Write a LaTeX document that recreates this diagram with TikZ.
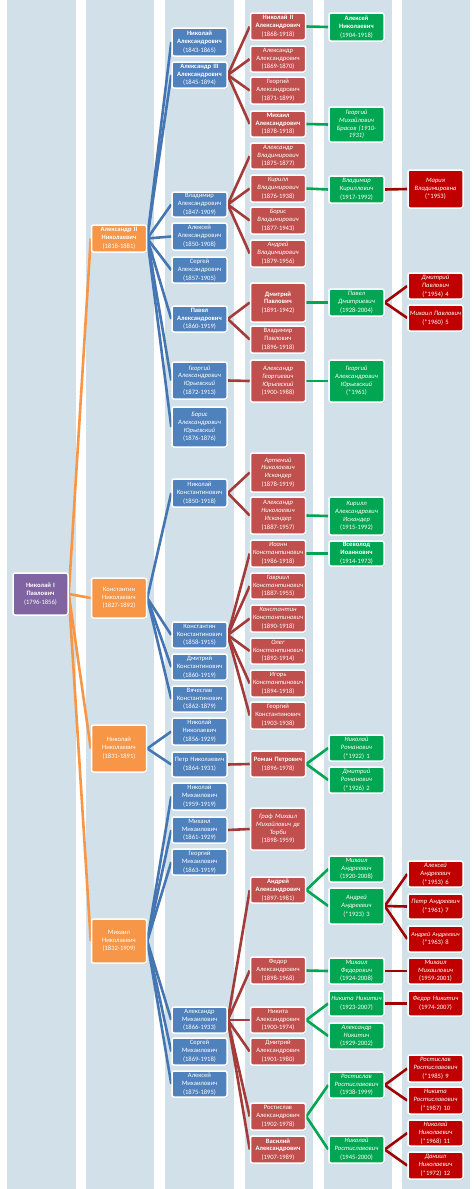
\documentclass[tikz,border=0pt]{standalone}
\usepackage{fontspec}
\setmainfont{Carlito}
\usetikzlibrary{shadows}
\definecolor{stripc}{RGB}{210,225,233}
\definecolor{cpur}{RGB}{128,100,162}
\definecolor{cora}{RGB}{247,150,70}
\definecolor{cblu}{RGB}{79,129,189}
\definecolor{cred}{RGB}{192,80,77}
\definecolor{cgrn}{RGB}{0,166,81}
\definecolor{ccri}{RGB}{192,0,0}
\definecolor{lblu}{RGB}{70,118,178}
\definecolor{lred}{RGB}{163,59,58}
\definecolor{lcri}{RGB}{160,0,0}
\pgfdeclarelayer{strips}
\pgfdeclarelayer{edges}
\pgfsetlayers{strips,edges,main}
\newcommand\fsz{\fontsize{6.6}{7.8}\selectfont}
\newcommand\Y[1]{\\[1pt]{\normalfont #1}}
\newcommand\gn[6]{\node[box,#2,minimum height={#5-#4}] (#1) at (#3,{(#4+#5)/2}) {#6};}
\newcommand\ed[3]{\draw[#1] (#2.east) -- (#3.west);}
\tikzset{
  box/.style={rectangle, rounded corners=2pt, draw=white, line width=1.5pt, text=white,
    align=center, text width=53pt, inner sep=1pt, font=\fsz,
    drop shadow={shadow xshift=0.6pt, shadow yshift=-0.8pt, opacity=0.25, fill=black}},
  fp/.style={fill=cpur}, fo/.style={fill=cora}, fb/.style={fill=cblu},
  fr/.style={fill=cred}, fg/.style={fill=cgrn}, fc/.style={fill=ccri},
  bf/.style={font=\fsz\bfseries}, it/.style={font=\fsz\itshape},
  lo/.style={draw=cora, line width=2.6pt},
  lb/.style={draw=lblu, line width=2.6pt},
  lr/.style={draw=lred, line width=2.6pt},
  lg/.style={draw=cgrn, line width=2.6pt},
  lc/.style={draw=lcri, line width=2.6pt},
}
\begin{document}
\begin{tikzpicture}[x=1pt,y=-1pt]
\useasboundingbox (0,0) rectangle (474,1189);
\begin{pgfonlayer}{strips}
\fill[white] (0,0) rectangle (474,1189);
\foreach \a/\b in {7/76,86/154,165/234,245/313,324/392,402/470}
  \fill[stripc] (\a,0) rectangle (\b,1189);
\end{pgfonlayer}
% column 1
\gn{root}{fp,bf}{40.5}{573}{615}{Николай I\\Павлович\Y{(1796-1856)}}
% column 2
\gn{a2}{fo,bf}{119}{225}{252}{Александр II\\Николаевич\Y{(1818-1881)}}
\gn{kn}{fo}{119}{578}{618}{Константин\\Николаевич\Y{(1827-1892)}}
\gn{nn}{fo}{119}{725}{772}{Николай\\Николаевич\Y{(1831-1891)}}
\gn{mn}{fo}{119}{919}{963}{Михаил\\Николаевич\Y{(1832-1909)}}
% column 3
\def\X{199.5}
\gn{c3a}{fb,bf}{\X}{28}{56}{Николай\\Александрович\Y{(1843-1865)}}
\gn{c3b}{fb,bf}{\X}{62}{88}{Александр III\\Александрович\Y{(1845-1894)}}
\gn{c3c}{fb}{\X}{192}{217}{Владимир\\Александрович\Y{(1847-1909)}}
\gn{c3d}{fb}{\X}{223}{250}{Алексей\\Александрович\Y{(1850-1908)}}
\gn{c3e}{fb}{\X}{257}{283}{Сергей\\Александрович\Y{(1857-1905)}}
\gn{c3f}{fb,bf}{\X}{306}{332}{Павел\\Александрович\Y{(1860-1919)}}
\gn{c3g}{fb,it}{\X}{362}{399}{Георгий\\Александрович\\Юрьевский\Y{(1872-1913)}}
\gn{c3h}{fb,it}{\X}{407}{447}{Борис\\Александрович\\Юрьевский\Y{(1876-1876)}}
\gn{c3i}{fb}{\X}{479}{507}{Николай\\Константинович\Y{(1850-1918)}}
\gn{c3j}{fb}{\X}{622}{648}{Константин\\Константинович\Y{(1858-1915)}}
\gn{c3k}{fb}{\X}{654}{680}{Дмитрий\\Константинович\Y{(1860-1919)}}
\gn{c3l}{fb}{\X}{686}{712}{Вячеслав\\Константинович\Y{(1862-1879)}}
\gn{c3m}{fb}{\X}{718}{745}{Николай\\Николаевич\Y{(1856-1929)}}
\gn{c3n}{fb}{\X}{752}{777}{Петр Николаевич\Y{(1864-1931)}}
\gn{c3o}{fb}{\X}{783}{810}{Николай\\Михаилович\Y{(1959-1919)}}
\gn{c3p}{fb}{\X}{817}{843}{Михаил\\Михаилович\Y{(1861-1929)}}
\gn{c3q}{fb}{\X}{849}{875}{Георгий\\Михаилович\Y{(1863-1919)}}
\gn{c3r}{fb}{\X}{1007}{1033}{Александр\\Михаилович\Y{(1866-1933)}}
\gn{c3s}{fb}{\X}{1038}{1065}{Сергей\\Михаилович\Y{(1869-1918)}}
\gn{c3t}{fb}{\X}{1071}{1097}{Алексей\\Михаилович\Y{(1875-1895)}}
% column 4
\def\X{278}
\gn{c4a}{fr,bf}{\X}{13}{40}{Николай II\\Александрович\Y{(1868-1918)}}
\gn{c4b}{fr}{\X}{46}{72}{Александр\\Александрович\Y{(1869-1870)}}
\gn{c4c}{fr}{\X}{77}{104}{Георгий\\Александрович\Y{(1871-1899)}}
\gn{c4d}{fr,bf}{\X}{111}{137}{Михаил\\Александрович\Y{(1878-1918)}}
\gn{c4e}{fr,it}{\X}{143}{169}{Александр\\Владимирович\Y{(1875-1877)}}
\gn{c4f}{fr,it}{\X}{175}{202}{Кирилл\\Владимирович\Y{(1876-1938)}}
\gn{c4g}{fr,it}{\X}{207}{234}{Борис\\Владимирович\Y{(1877-1943)}}
\gn{c4h}{fr,it}{\X}{240}{267}{Андрей\\Владимирович\Y{(1879-1956)}}
\gn{c4i}{fr,bf}{\X}{283}{322}{Дмитрий\\Павлович\Y{(1891-1942)}}
\gn{c4j}{fr}{\X}{326}{353}{Владимир\\Павлович\Y{(1896-1918)}}
\gn{c4k}{fr,it}{\X}{360}{402}{Александр\\Георгиевич\\Юрьевский\Y{(1900-1988)}}
\gn{c4l}{fr,it}{\X}{453}{492}{Артемий\\Николаевич\\Искандер\Y{(1878-1919)}}
\gn{c4m}{fr,it}{\X}{497}{534}{Александр\\Николаевич\\Искандер\Y{(1887-1957)}}
\gn{c4n}{fr,it}{\X}{540}{567}{Иоанн\\Константинович\Y{(1986-1918)}}
\gn{c4o}{fr,it}{\X}{573}{599}{Гавриил\\Константинович\Y{(1887-1955)}}
\gn{c4p}{fr,it}{\X}{605}{632}{Константин\\Константинович\Y{(1890-1918)}}
\gn{c4q}{fr,it}{\X}{638}{664}{Олег\\Константинович\Y{(1892-1914)}}
\gn{c4r}{fr,it}{\X}{670}{697}{Игорь\\Константинович\Y{(1894-1918)}}
\gn{c4s}{fr}{\X}{702}{729}{Георгий\\Константинович\Y{(1903-1938)}}
\gn{c4t}{fr,bf}{\X}{751}{777}{Роман Петрович\Y{(1896-1978)}}
\gn{c4u}{fr,it}{\X}{808}{850}{Граф Михаил\\Михайлович де\\Торби\Y{(1898-1959)}}
\gn{c4v}{fr,bf}{\X}{877}{903}{Андрей\\Александрович\Y{(1897-1981)}}
\gn{c4w}{fr}{\X}{957}{984}{Федор\\Александрович\Y{(1898-1968)}}
\gn{c4x}{fr}{\X}{1007}{1033}{Никита\\Александрович\Y{(1900-1974)}}
\gn{c4y}{fr}{\X}{1038}{1065}{Дмитрий\\Александрович\Y{(1901-1980)}}
\gn{c4z}{fr}{\X}{1103}{1130}{Ростислав\\Александрович\Y{(1902-1978)}}
\gn{c4zz}{fr,bf}{\X}{1136}{1163}{Василий\\Александрович\Y{(1907-1989)}}
% column 5
\def\X{356.5}
\gn{c5a}{fg,bf}{\X}{13}{41}{Алексей\\Николаевич\Y{(1904-1918)}}
\gn{c5b}{fg,it}{\X}{107}{142}{Георгий\\Михайлович\\Брасов (1910-\\1931)}
\gn{c5c}{fg,it}{\X}{176}{203}{Владимир\\Кириллович\Y{(1917-1992)}}
\gn{c5d}{fg,it}{\X}{289}{316}{Павел\\Дмитриевич\Y{(1928-2004)}}
\gn{c5e}{fg,it}{\X}{360}{402}{Георгий\\Александрович\\Юрьевский\Y{(*1961)}}
\gn{c5f}{fg,it}{\X}{497}{535}{Кирилл\\Александрович\\Искандер\Y{(1915-1992)}}
\gn{c5g}{fg,bf}{\X}{541}{566}{Всеволод\\Иоаннович\Y{(1914-1973)}}
\gn{c5h}{fg,it}{\X}{735}{761}{Николай\\Романович\Y{(*1922) 1}}
\gn{c5i}{fg,it}{\X}{767}{793}{Дмитрий\\Романович\Y{(*1926) 2}}
\gn{c5j}{fg,it}{\X}{856}{882}{Михаил\\Андреевич\Y{(1920-2008)}}
\gn{c5k}{fg,it}{\X}{888}{924}{Андрей\\Андреевич\Y{(*1923) 3}}
\gn{c5l}{fg,it}{\X}{958}{984}{Михаил\\Федорович\Y{(1924-2008)}}
\gn{c5m}{fg,it}{\X}{991}{1016}{Никита Никитич\Y{(1923-2007)}}
\gn{c5n}{fg,it}{\X}{1023}{1049}{Александр\\Никитич\Y{(1929-2002)}}
\gn{c5o}{fg,it}{\X}{1072}{1098}{Ростислав\\Ростиславович\Y{(1938-1999)}}
\gn{c5p}{fg,it}{\X}{1136}{1163}{Николай\\Ростиславович\Y{(1945-2000)}}
% column 6
\def\X{435.5}
\gn{c6a}{fc,it}{\X}{170}{208}{Мария\\Владимировна\Y{(*1953)}}
\gn{c6b}{fc,it}{\X}{273}{299}{Дмитрий\\Павлович\Y{(*1954) 4}}
\gn{c6c}{fc,it}{\X}{305}{331}{Михаил Павлович\Y{(*1960) 5}}
\gn{c6d}{fc,it}{\X}{861}{887}{Алексей\\Андреевич\Y{(*1953) 6}}
\gn{c6e}{fc,it}{\X}{894}{919}{Петр Андреевич\Y{(*1961) 7}}
\gn{c6f}{fc,it}{\X}{926}{952}{\mbox{\fontsize{6}{7.8}\selectfont Андрей Андреевич}\Y{(*1963) 8}}
\gn{c6g}{fc,it}{\X}{958}{984}{Михаил\\Михаилович\Y{(1959-2001)}}
\gn{c6h}{fc,it}{\X}{991}{1016}{Федор Никитич\Y{(1974-2007)}}
\gn{c6i}{fc,it}{\X}{1055}{1082}{Ростислав\\Ростиславович\Y{(*1985) 9}}
\gn{c6j}{fc,it}{\X}{1087}{1114}{Никита\\Ростиславович\Y{(*1987) 10}}
\gn{c6k}{fc,it}{\X}{1120}{1146}{Николай\\Николаевич\Y{(*1968) 11}}
\gn{c6l}{fc,it}{\X}{1152}{1179}{Даниил\\Николаевич\Y{(*1972) 12}}
% connectors
\begin{pgfonlayer}{edges}
\foreach \c in {a2,kn,nn,mn} {\ed{lo}{root}{\c}}
\foreach \c in {c3a,c3b,c3c,c3d,c3e,c3f,c3g,c3h} {\ed{lb}{a2}{\c}}
\foreach \c in {c3i,c3j,c3k,c3l} {\ed{lb}{kn}{\c}}
\foreach \c in {c3m,c3n} {\ed{lb}{nn}{\c}}
\foreach \c in {c3o,c3p,c3q,c3r,c3s,c3t} {\ed{lb}{mn}{\c}}
\foreach \c in {c4a,c4b,c4c,c4d} {\ed{lr}{c3b}{\c}}
\foreach \c in {c4e,c4f,c4g,c4h} {\ed{lr}{c3c}{\c}}
\foreach \c in {c4i,c4j} {\ed{lr}{c3f}{\c}}
\ed{lr}{c3g}{c4k}
\foreach \c in {c4l,c4m} {\ed{lr}{c3i}{\c}}
\foreach \c in {c4n,c4o,c4p,c4q,c4r,c4s} {\ed{lr}{c3j}{\c}}
\ed{lr}{c3n}{c4t}
\ed{lr}{c3p}{c4u}
\foreach \c in {c4v,c4w,c4x,c4y,c4z,c4zz} {\ed{lr}{c3r}{\c}}
\ed{lg}{c4a}{c5a}
\ed{lg}{c4d}{c5b}
\ed{lg}{c4f}{c5c}
\ed{lg}{c4i}{c5d}
\ed{lg}{c4k}{c5e}
\ed{lg}{c4m}{c5f}
\ed{lg}{c4n}{c5g}
\foreach \c in {c5h,c5i} {\ed{lg}{c4t}{\c}}
\foreach \c in {c5j,c5k} {\ed{lg}{c4v}{\c}}
\ed{lg}{c4w}{c5l}
\foreach \c in {c5m,c5n} {\ed{lg}{c4x}{\c}}
\foreach \c in {c5o,c5p} {\ed{lg}{c4z}{\c}}
\ed{lc}{c5c}{c6a}
\foreach \c in {c6b,c6c} {\ed{lc}{c5d}{\c}}
\foreach \c in {c6d,c6e,c6f} {\ed{lc}{c5k}{\c}}
\ed{lc}{c5l}{c6g}
\ed{lc}{c5m}{c6h}
\foreach \c in {c6i,c6j} {\ed{lc}{c5o}{\c}}
\foreach \c in {c6k,c6l} {\ed{lc}{c5p}{\c}}
\end{pgfonlayer}
\end{tikzpicture}
\end{document}
